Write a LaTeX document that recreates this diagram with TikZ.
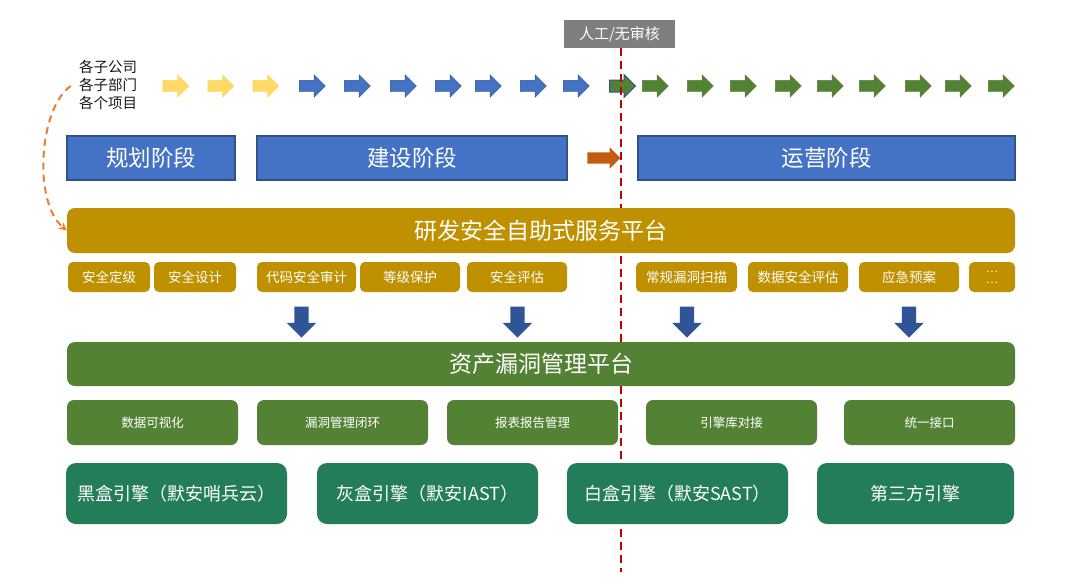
\documentclass[tikz,border=0pt]{standalone}
\usepackage{fontspec}
\setmainfont{Noto Sans CJK SC}
\usepackage{xcolor}
\usepackage{tikz}
\usetikzlibrary{arrows.meta,positioning,shapes.arrows}
\definecolor{cBlue}{HTML}{4472C4}
\definecolor{cBlueLine}{HTML}{2F528F}
\definecolor{cNavy}{HTML}{2F5597}
\definecolor{cSun}{HTML}{FFD966}
\definecolor{cGold}{HTML}{BF9000}
\definecolor{cLeaf}{HTML}{548235}
\definecolor{cPine}{HTML}{237D58}
\definecolor{cRust}{HTML}{C55A11}
\definecolor{cOrange}{HTML}{ED7D31}
\definecolor{cRed}{HTML}{C00000}
\definecolor{cGray}{HTML}{7F7F7F}
\definecolor{cInk}{HTML}{1A1A1A}
\tikzset{
  phase/.style={draw=cBlueLine,fill=cBlue,line width=1.2pt,text=white,font=\fontsize{22.5}{26}\selectfont,inner sep=0pt},
  bar/.style={fill=#1,rounded corners=8pt,text=white,font=\fontsize{23}{26}\selectfont,inner sep=0pt,minimum width=948pt,minimum height=45pt},
  tag/.style={fill=#1,rounded corners=5pt,text=white,font=\fontsize{13.5}{14}\selectfont,inner sep=0pt,minimum height=30pt,align=center},
  gtag/.style={fill=cLeaf,rounded corners=7pt,text=white,font=\fontsize{12.5}{14}\selectfont,inner sep=0pt,minimum width=171pt,minimum height=45pt},
  eng/.style={fill=cPine,rounded corners=10pt,text=white,font=\fontsize{18}{21}\selectfont,inner sep=0pt,minimum width=221pt,minimum height=61pt},
  flowarr/.style={single arrow,single arrow head extend=5.5pt,inner sep=0pt,inner ysep=5.5pt,minimum height=26pt,minimum width=22pt,fill=#1,draw=#1,line width=0.4pt},
  downarr/.style={single arrow,shape border rotate=270,single arrow head extend=7.5pt,inner sep=7pt,minimum height=31pt,minimum width=29pt,fill=cNavy},
  cut/.style={cRed,line width=2.4pt,dash pattern=on 8pt off 5pt},
  loop/.style={-{Stealth[length=8pt,width=8pt]},cOrange,line width=2pt,dash pattern=on 7pt off 5pt},
}

\begin{document}
\begin{tikzpicture}[x=1pt,y=-1pt]
  \useasboundingbox[fill=white] (0,0) rectangle (1072,584);
  % top row
  \node[font=\fontsize{14.5}{18}\selectfont,text=cInk,align=left,inner sep=0pt] (units) at (108,85) {各子公司\\各子部门\\各个项目};
  \node[fill=cGray,text=white,font=\fontsize{15}{18}\selectfont,minimum width=111pt,minimum height=28pt,inner sep=0pt] (review) at (619.5,34) {人工/无审核};
  \foreach \x [count=\i] in {173,218,263}
    \node[flowarr=cSun] (y\i) at (\x,86) {};
  \foreach \x [count=\i] in {309.5,354.5,400.5,445.5,485.5,530.5,573.5}
    \node[flowarr=cBlue,draw=cBlueLine] (b\i) at (\x,86) {};
  \node[flowarr=cLeaf,draw=cBlueLine,line width=1pt] (b8) at (619.5,86) {};
  \foreach \x [count=\i] in {652.5,697.5,740.5,785.5,827.5,869.5,915.5,955.5,998.5}
    \node[flowarr=cLeaf] (g\i) at (\x,86) {};

  % divider
  \coordinate (cutTop) at (621,48);
  \coordinate (cutEnd) at (621,572);
  \draw[cut] (cutTop) -- (cutEnd);

  % phases
  \node[phase,minimum width=168pt,minimum height=44pt] (plan) at (151,158) {规划阶段};
  \node[phase,minimum width=310pt,minimum height=44pt] (build) at (412,158) {建设阶段};
  \node[phase,minimum width=377pt,minimum height=44pt] (ops) at (826.5,158) {运营阶段};
  \node[single arrow,single arrow head extend=5pt,inner sep=0pt,inner ysep=5.5pt,minimum height=33pt,minimum width=21pt,fill=cRust] (go) at (601,158) {};

  % self-service platform
  \node[bar=cGold] (dev) at (541,230.5) {研发安全自助式服务平台};
  \node[tag=cGold,minimum width=82pt] (t1) at (109,277) {安全定级};
  \node[tag=cGold,minimum width=82pt] (t2) at (195,277) {安全设计};
  \node[tag=cGold,minimum width=99pt] (t3) at (306.5,277) {代码安全审计};
  \node[tag=cGold,minimum width=100pt] (t4) at (410,277) {等级保护};
  \node[tag=cGold,minimum width=100pt] (t5) at (517,277) {安全评估};
  \node[tag=cGold,minimum width=101pt] (t6) at (686.5,277) {常规漏洞扫描};
  \node[tag=cGold,minimum width=100pt] (t7) at (798,277) {数据安全评估};
  \node[tag=cGold,minimum width=100pt] (t8) at (909,277) {应急预案};
  \node[tag=cGold,minimum width=46pt,font=\fontsize{11}{11}\selectfont] (t9) at (992,277) {…\\…};
  \draw[loop] ([xshift=-8pt,yshift=-1pt]units.west) .. controls +(-32,22) and +(-34,-28) .. (dev.west);

  % down arrows
  \node[downarr] (d1) at (301.5,318.5) {};
  \node[downarr] (d2) at (517.5,318.5) {};
  \node[downarr] (d3) at (687,318.5) {};
  \node[downarr] (d4) at (909,318.5) {};

  % asset platform
  \node[bar=cLeaf,minimum height=44pt] (asset) at (541,364) {资产漏洞管理平台};
  \node[gtag] (v1) at (152.5,422.5) {数据可视化};
  \node[gtag] (v2) at (342.5,422.5) {漏洞管理闭环};
  \node[gtag] (v3) at (532.5,422.5) {报表报告管理};
  \node[gtag] (v4) at (731.5,422.5) {引擎库对接};
  \node[gtag] (v5) at (929.5,422.5) {统一接口};

  % engines
  \node[eng] (e1) at (176.5,493.5) {黑盒引擎（默安哨兵云）};
  \node[eng] (e2) at (427.5,493.5) {灰盒引擎（默安IAST）};
  \node[eng] (e3) at (677.5,493.5) {白盒引擎（默安SAST）};
  \node[eng,minimum width=197pt] (e4) at (915.5,493.5) {第三方引擎};
\end{tikzpicture}
\end{document}
